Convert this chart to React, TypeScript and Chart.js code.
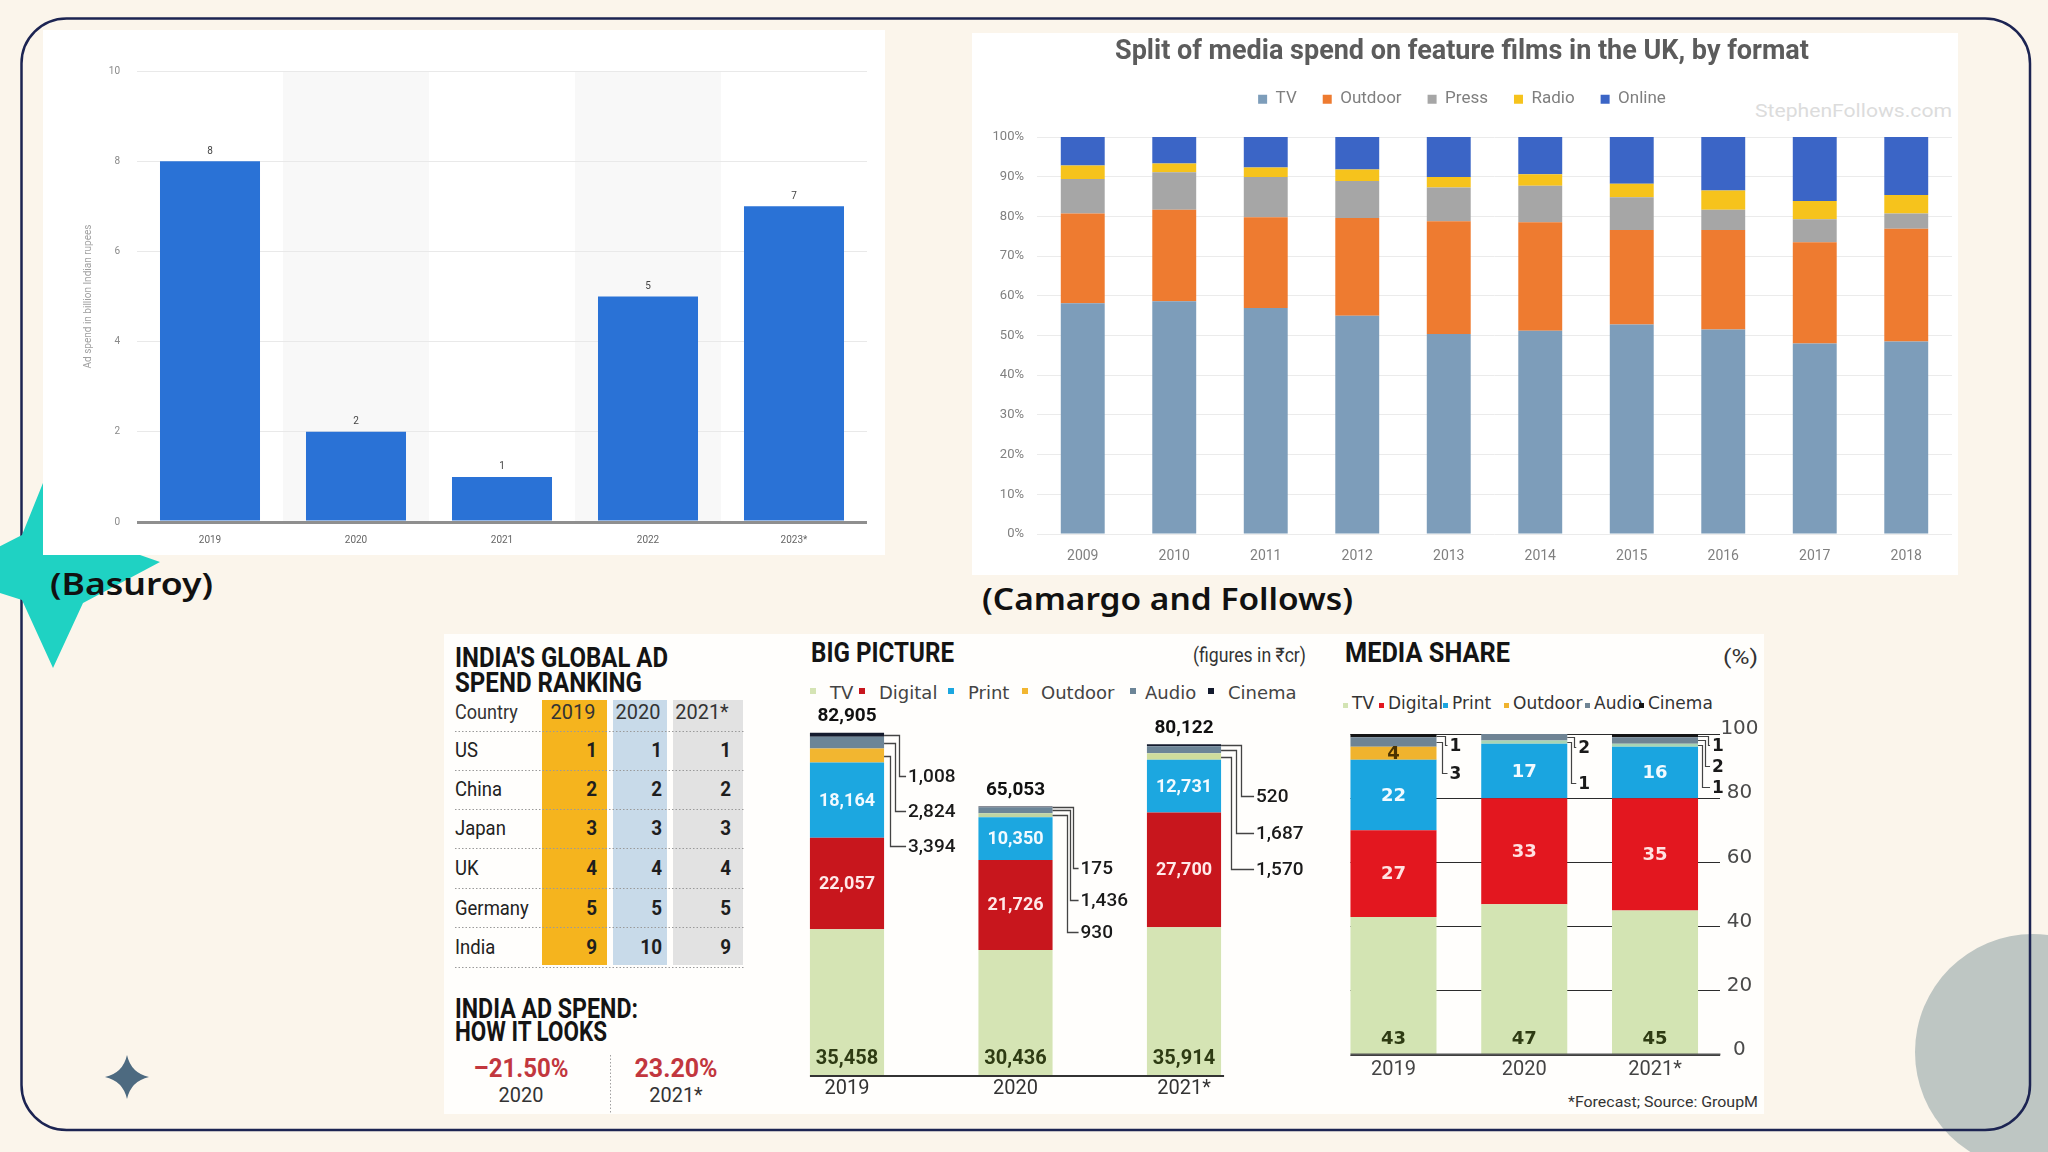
import React, { useEffect, useRef } from 'react';
import { Chart, registerables } from 'chart.js';

Chart.register(...registerables);
Chart.defaults.font.family = 'Roboto, "Noto Sans", sans-serif';

// ---------------- data ----------------
// Ad spend in India, billion rupees
const adSpendYears = ['2019', '2020', '2021', '2022', '2023*'];
const adSpendBillions = [8, 2, 1, 5, 7];

// UK feature-film media spend split (% of total)
const ukYears = ['2009', '2010', '2011', '2012', '2013', '2014', '2015', '2016', '2017', '2018'];
const ukFormats = ['TV', 'Outdoor', 'Press', 'Radio', 'Online'];
const ukTV = [58.1, 58.6, 56.9, 55.0, 50.4, 51.2, 52.8, 51.5, 48.0, 48.5];
const ukOutdoor = [22.6, 23.1, 22.9, 24.6, 28.4, 27.3, 23.8, 25.1, 25.5, 28.4];
const ukPress = [8.7, 9.4, 10.1, 9.3, 8.5, 9.2, 8.2, 5.1, 5.8, 3.8];
const ukRadio = [3.4, 2.2, 2.4, 2.9, 2.6, 2.9, 3.4, 4.8, 4.6, 4.7];
const ukOnline = [7.2, 6.7, 7.7, 8.2, 10.1, 9.4, 11.8, 13.5, 16.1, 14.6];
const ukColors = ['#7D9DBA', '#EE7B30', '#A6A6A6', '#F6C31C', '#3B65C6'];

// India media spend by medium (₹ crore)
const mediaTypes = ['TV', 'Digital', 'Print', 'Outdoor', 'Audio', 'Cinema'];
const groupMYears = ['2019', '2020', '2021*'];
const spendTV = [35458, 30436, 35914];
const spendDigital = [22057, 21726, 27700];
const spendPrint = [18164, 10350, 12731];
const spendOutdoor = [3394, 930, 1570];
const spendAudio = [2824, 1436, 1687];
const spendCinema = [1008, 175, 520];

// Media share (%)
const shareTV = [43, 47, 45];
const shareDigital = [27, 33, 35];
const sharePrint = [22, 17, 16];
const shareOutdoor = [4, 1, 1];
const shareAudio = [3, 2, 2];
const shareCinema = [1, 0, 1];

// Global ad spend ranking
const rankCountries = ['US', 'China', 'Japan', 'UK', 'Germany', 'India'];
const rankColumns = ['2019', '2020', '2021*'];
const rank2019 = [1, 2, 3, 4, 5, 9];
const rank2020 = [1, 2, 3, 4, 5, 10];
const rank2021 = [1, 2, 3, 4, 5, 9];
const growthYears = ['2020', '2021*'];
const growthRates = ['–21.50%', '23.20%'];

// ---------------- styling ----------------
const SANS = 'Roboto, "Noto Sans", sans-serif';
const WIDE = '"DejaVu Sans", Roboto, sans-serif';
const PANEL = '#FFFEFC';
const spendColors: any[] = ['#D5E4B4', '#C8161D', '#1CA7E0', ['#F2B630', '#BFD4A2', '#CFDD9C'], '#6C8597', '#141B2E'];
const shareColors: any[] = ['#D3E4B3', '#E3171F', '#1AA5E0', ['#F0B32E', '#A8D4B4', '#A8D4B4'], '#6F8494', '#151515'];
const rankFills = ['#F5B41E', '#C8DAE9', '#E2E2E2'];

// ---------------- plugins ----------------
const columnBands = {
  id: 'columnBands',
  beforeDraw(chart: any, _a: any, o: any) {
    const { ctx, chartArea, scales } = chart;
    const n = chart.data.labels.length;
    const w = (chartArea.right - chartArea.left) / n;
    ctx.save();
    ctx.fillStyle = o.color;
    for (let i = 1; i < n; i += 2) {
      const cx = scales.x.getPixelForValue(i);
      ctx.fillRect(cx - w / 2, chartArea.top, w, chartArea.bottom - chartArea.top);
    }
    ctx.restore();
  },
};

const barValues = {
  id: 'barValues',
  afterDatasetsDraw(chart: any, _a: any, o: any) {
    const { ctx } = chart;
    ctx.save();
    ctx.fillStyle = o.color;
    ctx.font = o.font;
    ctx.textAlign = 'center';
    ctx.textBaseline = 'middle';
    chart.getDatasetMeta(0).data.forEach((el: any, i: number) => {
      const p = el.getProps(['x', 'y'], true);
      ctx.fillText(String(chart.data.datasets[0].data[i]), p.x, p.y - o.gap);
    });
    ctx.restore();
  },
};

// Keeps the horizontal rules out of the strip left of the first column.
const leftMask = {
  id: 'leftMask',
  beforeDatasetsDraw(chart: any, _a: any, o: any) {
    if (!o || !o.color) return;
    const { ctx, chartArea } = chart;
    const el = chart.getDatasetMeta(0).data[0];
    if (!el) return;
    const p = el.getProps(['x', 'width'], true);
    const left = p.x - p.width / 2;
    ctx.save();
    ctx.fillStyle = o.color;
    ctx.fillRect(chartArea.left - 1, chartArea.top - 2, left - chartArea.left + 1, chartArea.bottom - chartArea.top + 4);
    ctx.restore();
  },
};

const stackCallouts = {
  id: 'stackCallouts',
  afterDatasetsDraw(chart: any, _a: any, o: any) {
    const { ctx, chartArea } = chart;
    const datasets = chart.data.datasets;
    const count = chart.data.labels.length;
    ctx.save();
    ctx.textBaseline = 'middle';
    let firstLeft = 0;
    let lastRight = 0;
    let baseY = 0;
    for (let i = 0; i < count; i++) {
      let barTop = Infinity;
      let barRight = 0;
      let barX = 0;
      let total = 0;
      const outside: { y: number; text: string }[] = [];
      datasets.forEach((ds: any, d: number) => {
        const v = ds.data[i];
        const el = chart.getDatasetMeta(d).data[i];
        if (!el) return;
        const p = el.getProps(['x', 'y', 'base', 'width'], true);
        barX = p.x;
        barRight = p.x + p.width / 2;
        if (i === 0) firstLeft = p.x - p.width / 2;
        lastRight = barRight;
        if (d === 0) baseY = p.base;
        total += v;
        if (!v) return;
        const top = Math.min(p.y, p.base);
        const bottom = Math.max(p.y, p.base);
        barTop = Math.min(barTop, top);
        let mode = o.modes[d];
        if (mode === 'auto') mode = bottom - top >= o.minInside ? 'center' : 'callout';
        const text = o.format(v);
        if (mode === 'callout') {
          outside.push({ y: (top + bottom) / 2, text });
          return;
        }
        ctx.fillStyle = o.colors[d];
        ctx.textAlign = 'center';
        ctx.font = mode === 'bottom' ? o.bottomFont : o.font;
        ctx.fillText(text, p.x, mode === 'bottom' ? bottom - o.bottomGap : (top + bottom) / 2 + 1);
      });
      outside.reverse();
      const m = outside.length;
      ctx.strokeStyle = o.lineColor;
      ctx.lineWidth = o.lineWidth;
      ctx.font = o.calloutFont;
      ctx.fillStyle = o.calloutColor;
      ctx.textAlign = 'left';
      outside.forEach((c, k) => {
        const ly = Math.round(barTop + o.calloutStart[i] + k * o.calloutGap[i]) + 0.5;
        const vx = Math.round(barRight + o.lineBase[i] + (m - 1 - k) * o.lineStep[i]) + 0.5;
        const lx = barRight + o.labelGap[i];
        const sy = Math.round(c.y) + 0.5;
        ctx.beginPath();
        ctx.moveTo(barRight, sy);
        ctx.lineTo(vx, sy);
        ctx.lineTo(vx, ly);
        ctx.lineTo(lx - 2, ly);
        ctx.stroke();
        ctx.fillText(c.text, lx, ly + 1);
      });
      if (o.totals) {
        ctx.font = o.totals.font;
        ctx.fillStyle = o.totals.color;
        ctx.textAlign = 'center';
        ctx.fillText(o.format(total), barX, barTop - o.totals.gap);
      }
    }
    if (o.baseline) {
      const right = o.baseline.toArea ? chartArea.right : lastRight + o.baseline.extend;
      ctx.strokeStyle = o.baseline.color;
      ctx.lineWidth = o.baseline.width;
      ctx.beginPath();
      ctx.moveTo(firstLeft, baseY);
      ctx.lineTo(right, baseY);
      ctx.stroke();
    }
    ctx.restore();
  },
};

// ---------------- chart configs ----------------
const adSpendConfig = (): any => ({
  type: 'bar',
  data: {
    labels: adSpendYears,
    datasets: [{ label: 'Ad spend', data: adSpendBillions, backgroundColor: '#2A72D6', borderWidth: 0, barPercentage: 0.685, categoryPercentage: 1 }],
  },
  options: {
    animation: false,
    responsive: false,
    devicePixelRatio: 1,
    layout: { padding: { left: 0, right: 18, top: 41, bottom: 0 } },
    plugins: {
      legend: { display: false },
      tooltip: { enabled: false },
      columnBands: { color: '#F8F8F8' },
      barValues: { color: '#444', font: '10px Roboto', gap: 10 },
    },
    scales: {
      x: {
        grid: { display: false, drawTicks: false },
        border: { display: false },
        ticks: { color: '#666', font: { size: 10 }, padding: 12.5 },
        afterFit: (s: any) => { s.height = 33; },
      },
      y: {
        min: 0,
        max: 10,
        ticks: { stepSize: 2, padding: 17, color: '#8a8a8a', font: { size: 10 } },
        grid: {
          drawTicks: false,
          color: (c: any) => (c.tick && c.tick.value === 0 ? '#8f8f8f' : '#E9E9E9'),
          lineWidth: (c: any) => (c.tick && c.tick.value === 0 ? 3 : 1),
        },
        border: { display: false },
        title: { display: true, text: 'Ad spend in billion Indian rupees', color: '#a0a0a0', font: { size: 10 }, padding: { top: 39, bottom: 0 } },
        afterFit: (s: any) => { s.width = 94; },
      },
    },
  },
  plugins: [columnBands, barValues],
});

const ukSeries = [ukTV, ukOutdoor, ukPress, ukRadio, ukOnline];
const ukConfig = (): any => ({
  type: 'bar',
  data: {
    labels: ukYears,
    datasets: ukFormats.map((name, k) => ({
      label: name,
      data: ukSeries[k],
      backgroundColor: ukColors[k],
      borderWidth: 0,
      barPercentage: 0.48,
      categoryPercentage: 1,
    })),
  },
  options: {
    animation: false,
    responsive: false,
    devicePixelRatio: 1,
    layout: { padding: { left: 0, right: 5, top: 0, bottom: 0 } },
    plugins: {
      title: {
        display: true,
        text: 'Split of media spend on feature films in the UK, by format',
        color: '#5c5c5c',
        font: { size: 27, weight: 'bold', lineHeight: 0.9 },
        padding: { top: 7.35, bottom: 0 },
      },
      legend: {
        display: true,
        position: 'top',
        labels: { boxWidth: 9, boxHeight: 9, padding: 26, color: '#7f7f7f', font: { size: 17 } },
      },
      tooltip: { enabled: false },
    },
    scales: {
      x: {
        stacked: true,
        grid: { display: false, drawTicks: false },
        border: { display: false },
        ticks: { color: '#808080', font: { size: 14 }, padding: 13.6 },
        afterFit: (s: any) => { s.height = 41; },
      },
      y: {
        stacked: true,
        min: 0,
        max: 100,
        ticks: { stepSize: 10, color: '#808080', font: { size: 13 }, padding: 13, callback: (v: any) => v + '%' },
        grid: { color: '#EBEBEB', drawTicks: false },
        border: { display: false },
        afterFit: (s: any) => { s.width = 65; },
      },
      legendGap: {
        type: 'category',
        position: 'top',
        grid: { display: false, drawTicks: false },
        border: { display: false },
        ticks: { display: false },
        afterFit: (s: any) => { s.height = 19.35; },
      },
    },
  },
});

const spendSeries = [spendTV, spendDigital, spendPrint, spendOutdoor, spendAudio, spendCinema];
const spendConfig = (): any => ({
  type: 'bar',
  data: {
    labels: groupMYears,
    datasets: mediaTypes.map((name, k) => ({
      label: name,
      data: spendSeries[k],
      backgroundColor: spendColors[k],
      borderWidth: 0,
      barPercentage: 0.44,
      categoryPercentage: 1,
    })),
  },
  options: {
    animation: false,
    responsive: false,
    devicePixelRatio: 1,
    layout: { padding: { left: 12.75, right: 51.75, top: 24, bottom: 0 } },
    plugins: {
      legend: { display: false },
      tooltip: { enabled: false },
      stackCallouts: {
        modes: ['bottom', 'center', 'center', 'callout', 'callout', 'callout'],
        minInside: 20,
        colors: ['#2E3B13', '#FFE9E9', '#F2FAFF', '#222', '#222', '#222'],
        font: 'bold 18px Roboto',
        bottomFont: 'bold 20px Roboto',
        bottomGap: 17,
        calloutFont: '500 19px Roboto',
        calloutColor: '#1a1a1a',
        lineColor: '#444',
        lineWidth: 1.3,
        calloutStart: [43, 61, 52],
        calloutGap: [35, 32, 36.5],
        lineBase: [6, 14, 10],
        lineStep: [4.5, 3, 5],
        labelGap: [24, 28, 35],
        format: (v: number) => v.toLocaleString('en-US'),
        totals: { font: 'bold 19px Roboto', color: '#111', gap: 16 },
        baseline: { color: '#333', width: 2, extend: 3, toArea: false },
      },
    },
    scales: {
      x: {
        stacked: true,
        grid: { display: false, drawTicks: false },
        border: { display: false },
        ticks: { color: '#333', font: { size: 20 }, padding: 1 },
        afterFit: (s: any) => { s.height = 34; },
      },
      y: { stacked: true, display: false, min: 0, max: 85000 },
    },
  },
  plugins: [stackCallouts],
});

const shareSeries = [shareTV, shareDigital, sharePrint, shareOutdoor, shareAudio, shareCinema];
const shareConfig = (): any => ({
  type: 'bar',
  data: {
    labels: groupMYears,
    datasets: mediaTypes.map((name, k) => ({
      label: name,
      data: shareSeries[k],
      backgroundColor: shareColors[k],
      borderWidth: 0,
      barPercentage: 0.658,
      categoryPercentage: 1,
    })),
  },
  options: {
    animation: false,
    responsive: false,
    devicePixelRatio: 1,
    layout: { padding: { left: 18.1, right: 19.6, top: 29, bottom: 0 } },
    plugins: {
      legend: { display: false },
      tooltip: { enabled: false },
      leftMask: { color: PANEL },
      stackCallouts: {
        modes: ['bottom', 'center', 'center', 'auto', 'callout', 'callout'],
        minInside: 12,
        colors: ['#2E3B13', '#FFE2E2', '#F2FAFF', '#4A3200', '#222', '#222'],
        font: 'bold 18px "DejaVu Sans"',
        bottomFont: 'bold 18px "DejaVu Sans"',
        bottomGap: 15,
        calloutFont: 'bold 17px "DejaVu Sans"',
        calloutColor: '#1a1a1a',
        lineColor: '#444',
        lineWidth: 1.2,
        calloutStart: [11, 13, 11],
        calloutGap: [28, 36, 21],
        lineBase: [5, 4, 4],
        lineStep: [3, 3, 3],
        labelGap: [13, 11, 14],
        format: (v: number) => String(v),
        baseline: { color: '#555', width: 2, extend: 0, toArea: true },
      },
    },
    scales: {
      x: {
        stacked: true,
        grid: { display: false, drawTicks: false },
        border: { display: false },
        ticks: { color: '#444', font: { size: 20 }, padding: 3 },
        afterFit: (s: any) => { s.height = 35; },
      },
      y: {
        stacked: true,
        position: 'right',
        min: 0,
        max: 100,
        ticks: { stepSize: 20, color: '#4a4a4a', font: { size: 20, family: WIDE }, padding: 0, crossAlign: 'center', labelOffset: -5 },
        grid: { color: '#2b2b2b', lineWidth: 1, drawTicks: false },
        border: { display: false },
        afterFit: (s: any) => { s.width = 40; },
      },
    },
  },
  plugins: [leftMask, stackCallouts],
});

// ---------------- components ----------------
function ChartCanvas({ left, top, width, height, config }: any) {
  const ref = useRef<HTMLCanvasElement>(null);
  useEffect(() => {
    const chart = new Chart(ref.current as HTMLCanvasElement, config());
    return () => chart.destroy();
  }, []);
  return (
    <canvas
      ref={ref}
      width={width}
      height={height}
      style={{ position: 'absolute', left, top, width, height, zIndex: 1 }}
    />
  );
}

function Txt({ x, y, size, weight = 400, fill = '#222', sx = 1, anchor = 'start', family = SANS, width, children }: any) {
  const fit: any = width ? { textLength: width, lengthAdjust: 'spacingAndGlyphs' } : {};
  return (
    <text
      transform={`translate(${x} ${y}) scale(${sx} 1)`}
      x={0}
      y={0}
      fontSize={size}
      fontWeight={weight}
      fill={fill}
      fontFamily={family}
      textAnchor={anchor}
      dominantBaseline="central"
      {...fit}
    >
      {children}
    </text>
  );
}

const rankRowsY = [750, 789, 828, 868, 908, 947];
const rankRuleY = [731, 770, 809, 848, 888, 927, 967];
const rankColBoxes = [[542, 65], [613, 54], [673, 70]];
const rankHeadX = [573, 638, 702];
const rankNumX = [597, 662, 731];
const growthX = [521, 676];

const spendLegendPos = [[813, 830], [862, 879], [951, 968], [1025, 1041], [1133, 1145], [1211, 1228]];
const shareLegendPos = [[1346, 1352], [1382, 1388], [1446, 1452], [1507, 1513], [1588, 1594], [1642, 1648]];

function legendColor(c: any) {
  return Array.isArray(c) ? c[0] : c;
}

function Backdrop() {
  const rankValues = [rank2019, rank2020, rank2021];
  return (
    <svg width={2048} height={1152} style={{ position: 'absolute', left: 0, top: 0, zIndex: 0 }}>
      <rect x={0} y={0} width={2048} height={1152} fill="#FBF5EB" />
      <circle cx={2033} cy={1052} r={118} fill="#BEC6C3" />
      <rect x={21.5} y={18.5} width={2008.5} height={1111.5} rx={45} fill="none" stroke="#1C2452" strokeWidth={2.5} />
      <path d="M45,478 L83,535 L160,562 L83,603 L53,668 L22,600 L-56,575 L22,535 Z" fill="#1FD2C3" />
      <path d="M127,1055 Q131,1073 149,1077 Q131,1081 127,1099 Q123,1081 105,1077 Q123,1073 127,1055 Z" fill="#4D6A80" />

      {/* panels */}
      <rect x={43} y={30} width={842} height={525} fill="#FFFFFF" />
      <rect x={972} y={33} width={986} height={542} fill="#FFFFFF" />
      <rect x={444} y={634} width={1320} height={480} fill={PANEL} />

      <Txt x={50} y={583} size={31} weight={600} fill="#111" family='"Noto Sans", "Open Sans", sans-serif' width={163}>(Basuroy)</Txt>
      <Txt x={982} y={598} size={31} weight={600} fill="#111" family='"Noto Sans", "Open Sans", sans-serif' width={371}>(Camargo and Follows)</Txt>
      <Txt x={1755} y={110} size={18} fill="#DCDCDC" width={197}>StephenFollows.com</Txt>

      {/* ranking table */}
      <Txt x={455} y={657.5} size={27} weight={700} fill="#141414" width={213}>INDIA'S GLOBAL AD</Txt>
      <Txt x={455} y={683} size={27} weight={700} fill="#141414" width={187}>SPEND RANKING</Txt>
      {rankColBoxes.map(([x, w], k) => (
        <rect key={'cb' + k} x={x} y={700} width={w} height={265} fill={rankFills[k]} />
      ))}
      {rankRuleY.map((y, k) => (
        <line key={'rl' + k} x1={455} x2={745} y1={y + 0.5} y2={y + 0.5} stroke="#9a9a9a" strokeWidth={1} strokeDasharray="1.5 2" />
      ))}
      <Txt x={455} y={712} size={21} fill="#333" sx={0.86}>Country</Txt>
      {rankColumns.map((c, k) => (
        <Txt key={'hc' + k} x={rankHeadX[k]} y={712} size={21} fill="#333" sx={0.95} anchor="middle">{c}</Txt>
      ))}
      {rankCountries.map((c, r) => (
        <g key={'row' + r}>
          <Txt x={455} y={rankRowsY[r]} size={21} fill="#222" sx={0.88}>{c}</Txt>
          {rankValues.map((vals, k) => (
            <Txt key={'rv' + k} x={rankNumX[k]} y={rankRowsY[r]} size={21} weight={700} fill="#1e1e1e" sx={0.9} anchor="end">{String(vals[r])}</Txt>
          ))}
        </g>
      ))}
      <Txt x={455} y={1009} size={27} weight={700} fill="#141414" width={183}>INDIA AD SPEND:</Txt>
      <Txt x={455} y={1032} size={27} weight={700} fill="#141414" width={152}>HOW IT LOOKS</Txt>
      <line x1={610.5} x2={610.5} y1={1055} y2={1113} stroke="#a0a0a0" strokeWidth={1} strokeDasharray="1.5 2" />
      {growthRates.map((g, k) => (
        <g key={'gr' + k}>
          <Txt x={growthX[k]} y={1068} size={25} weight={700} fill="#C2373E" anchor="middle" width={k === 0 ? 95 : 83}>{g}</Txt>
          <Txt x={growthX[k]} y={1095} size={21} fill="#333" sx={0.95} anchor="middle">{growthYears[k]}</Txt>
        </g>
      ))}

      {/* big picture header */}
      <Txt x={811} y={653} size={27} weight={700} fill="#141414" width={143}>BIG PICTURE</Txt>
      <Txt x={1306} y={655} size={20} fill="#333" anchor="end" width={113}>(figures in ₹cr)</Txt>
      {mediaTypes.map((m, k) => (
        <g key={'sl' + k}>
          <rect x={spendLegendPos[k][0] - 3} y={688} width={6} height={6} fill={legendColor(spendColors[k])} />
          <Txt x={spendLegendPos[k][1]} y={692} size={18} fill="#444" family={WIDE}>{m}</Txt>
        </g>
      ))}

      {/* media share header */}
      <Txt x={1345} y={653} size={27} weight={700} fill="#141414" width={165}>MEDIA SHARE</Txt>
      <Txt x={1758} y={657} size={20} fill="#333" anchor="end" width={35}>(%)</Txt>
      {mediaTypes.map((m, k) => (
        <g key={'ml' + k}>
          <rect x={shareLegendPos[k][0] - 3} y={703} width={5} height={5} fill={legendColor(shareColors[k])} />
          <Txt x={shareLegendPos[k][1]} y={703} size={17} fill="#333" family={WIDE}>{m}</Txt>
        </g>
      ))}
      <Txt x={1758} y={1102} size={14} fill="#333" anchor="end" width={190}>*Forecast; Source: GroupM</Txt>
    </svg>
  );
}

export default function App() {
  useEffect(() => {
    document.body.style.margin = '0';
  }, []);
  return (
    <div style={{ position: 'fixed', left: 0, top: 0, width: 2048, height: 1152, overflow: 'hidden', background: '#FBF5EB' }}>
      <Backdrop />
      <ChartCanvas left={43} top={30} width={842} height={525} config={adSpendConfig} />
      <ChartCanvas left={972} top={33} width={985} height={542} config={ukConfig} />
      <ChartCanvas left={750} top={700} width={570} height={410} config={spendConfig} />
      <ChartCanvas left={1310} top={705} width={470} height={385} config={shareConfig} />
    </div>
  );
}
